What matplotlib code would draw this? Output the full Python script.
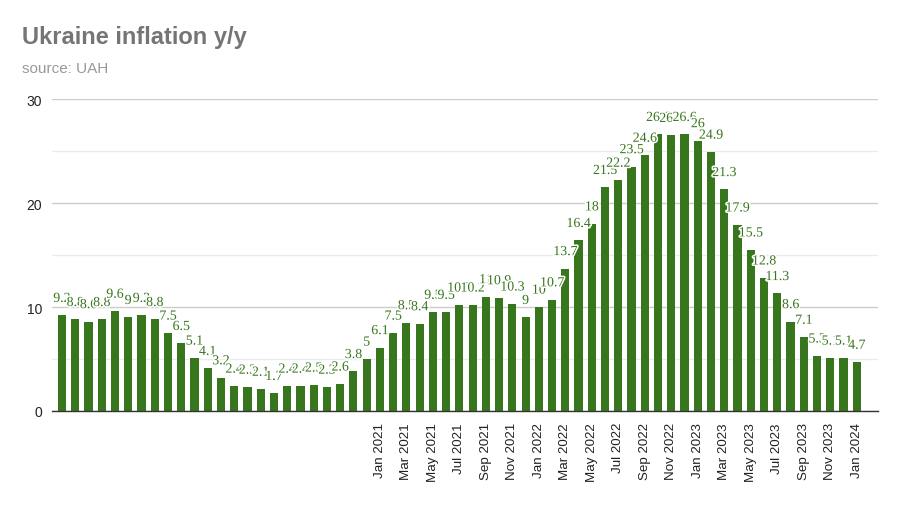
import matplotlib
matplotlib.use("Agg")
import matplotlib.pyplot as plt
import matplotlib.patheffects as pe
import numpy as np

# Monthly data Jan 2019 .. Jan 2024
months = [f"{m} {y}" for y in range(2019, 2024) for m in
          ["Jan", "Feb", "Mar", "Apr", "May", "Jun", "Jul", "Aug", "Sep", "Oct", "Nov", "Dec"]] + ["Jan 2024"]
values_2019 = [9.2, 8.8, 8.6, 8.8, 9.6, 9, 9.2, 8.8, 7.5, 6.5, 5.1, 4.1]
values_2020 = [3.2, 2.4, 2.3, 2.1, 1.7, 2.4, 2.4, 2.5, 2.3, 2.6, 3.8, 5]
values_2021 = [6.1, 7.5, 8.5, 8.4, 9.5, 9.5, 10.2, 10.2, 11, 10.9, 10.3, 9]
values_2022 = [10, 10.7, 13.7, 16.4, 18, 21.5, 22.2, 23.5, 24.6, 26.6, 26.5, 26.6]
values_2023 = [26, 24.9, 21.3, 17.9, 15.5, 12.8, 11.3, 8.6, 7.1, 5.3, 5.1, 5.1]
values_2024 = [4.7]
values = values_2019 + values_2020 + values_2021 + values_2022 + values_2023 + values_2024
tick_labels = months[24::2]

title = "Ukraine inflation y/y"
subtitle = "source: UAH"
bar_color = "#38761d"

fig = plt.figure(figsize=(9, 5.1), dpi=100)
ax = fig.add_axes([52/900, 1-412/510, (878-52)/900, (412-100)/510])

x = np.arange(len(values))
ax.bar(x, values, width=0.62, color=bar_color, zorder=3)

def fmt(v):
    return f"{v:g}"

for xi, v in zip(x, values):
    ax.annotate(fmt(v), (xi, v), xytext=(0, 7.5), textcoords="offset points",
                ha="center", va="bottom", fontsize=10, color=bar_color,
                family="Liberation Serif", zorder=5, clip_on=False,
                path_effects=[pe.withStroke(linewidth=2.2, foreground="white")])

ax.set_xlim(-0.75, len(values) - 1 + 1.6)
ax.set_ylim(0, 30)
ax.set_yticks([0, 10, 20, 30])
ax.set_yticks([5, 15, 25], minor=True)
ax.grid(axis="y", which="major", color="#cccccc", linewidth=1, zorder=0)
ax.grid(axis="y", which="minor", color="#ebebeb", linewidth=1, zorder=0)
ax.tick_params(axis="y", which="both", length=0, pad=7, labelsize=10, labelcolor="#222222")
for lab in ax.get_yticklabels():
    lab.set_family("Liberation Sans")

ax.set_xticks(x[24::2])
ax.set_xticklabels(tick_labels, rotation=90, fontsize=9.6, color="#222222", family="Liberation Sans")
ax.tick_params(axis="x", length=0, pad=8)

for s in ["top", "right", "left"]:
    ax.spines[s].set_visible(False)
ax.spines["bottom"].set_color("#333333")
ax.spines["bottom"].set_linewidth(1)
ax.spines["bottom"].set_zorder(4)

fig.text(22/900, 1-44/510, title, fontsize=17, fontweight="bold", color="#757575",
         family="Liberation Sans", ha="left", va="baseline")
fig.text(22/900, 1-73/510, subtitle, fontsize=11, color="#999999",
         family="Liberation Sans", ha="left", va="baseline")

fig.savefig("out.png", dpi=100)
